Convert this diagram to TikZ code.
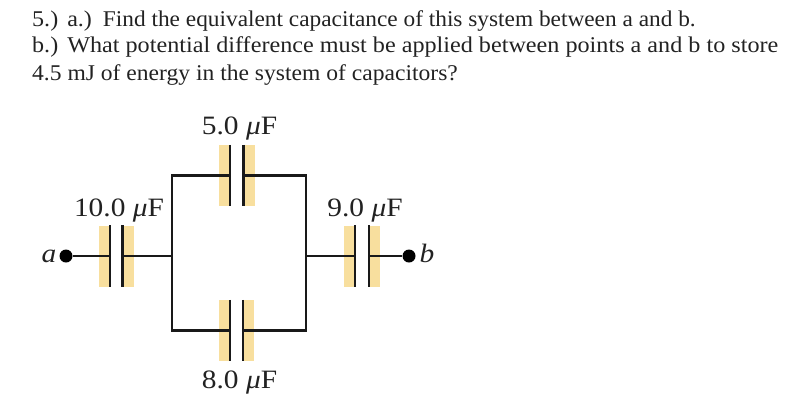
\documentclass[tikz,border=0pt]{standalone}
\usepackage{fontspec}
\setmainfont[FakeStretch=1.11]{Liberation Serif}
\newfontfamily\qfont[FakeStretch=1.07]{Liberation Serif}
\definecolor{capyellow}{HTML}{F8DF9E}
\definecolor{txt}{HTML}{222222}
\tikzset{
  question/.style={anchor=base west,inner sep=0pt,font=\qfont\fontsize{22.5}{24}\selectfont,text=txt},
  vallabel/.style={anchor=base,inner sep=0pt,font=\fontsize{26.5}{28}\selectfont,text=txt},
  termlabel/.style={anchor=base,inner sep=0pt,font=\itshape\fontsize{26.5}{28}\selectfont,text=txt},
  band/.style={fill=capyellow,draw=none,minimum width=11pt,minimum height=61pt,inner sep=0pt},
  wire/.style={draw=black!90,line width=2.1pt},
  plate/.style={draw=black!90,line width=2.4pt},
  terminal/.style={circle,fill=black,minimum size=13pt,inner sep=0pt}
}
\newcommand{\um}{{\itshape μ}F}
\begin{document}
\begin{tikzpicture}[x=1pt,y=-1pt]
\useasboundingbox (0,0) rectangle (787,400);
\node[question] (q1) at (32,26) {5.)\hspace{9pt}a.)\hspace{11pt}\scalebox{.969}[1]{Find the equivalent capacitance of this system between a and b.}};
\node[question] (q2) at (32,52.5) {b.)\hspace{9pt}\scalebox{1.004}[1]{What potential difference must be applied between points a and b to store}};
\node[question] (q3) at (32,80) {\scalebox{.979}[1]{4.5 mJ of energy in the system of capacitors?}};
% capacitor bands
\node[band] (c1l) at (104,256) {};
\node[band] (c1r) at (128,256) {};
\node[band] (c2l) at (224,175.5) {};
\node[band] (c2r) at (249,175.5) {};
\node[band] (c3l) at (224.5,330.5) {};
\node[band] (c3r) at (248.5,330.5) {};
\node[band] (c4l) at (349.5,256) {};
\node[band] (c4r) at (374.5,256) {};
% plates
\foreach \n in {c1l,c2l,c3l,c4l} \draw[plate] (\n.north east) -- (\n.south east);
\foreach \n in {c1r,c2r,c3r,c4r} \draw[plate] (\n.north west) -- (\n.south west);
% terminals
\node[terminal] (a) at (66,256) {};
\node[terminal] (b) at (409,256) {};
% junctions
\coordinate (jl) at (172,256);
\coordinate (jr) at (306,256);
\draw[wire] (a) -- (c1l.east);
\draw[wire] (c1r.west) -- (jl);
\draw[wire] (c2l.east) -| (jl);
\draw[wire] (c3l.east) -| (jl);
\draw[wire] (c2r.west) -| (jr);
\draw[wire] (c3r.west) -| (jr);
\draw[wire] (jr) -- (c4l.east);
\draw[wire] (c4r.west) -- (b);
% labels
\node[termlabel] (la) at (49,262.5) {a};
\node[termlabel] (lb) at (427,262.5) {b};
\node[vallabel] (v1) at (119,216.5) {10.0 \um};
\node[vallabel] (v2) at (239.5,134) {5.0 \um};
\node[vallabel] (v3) at (365,216.5) {9.0 \um};
\node[vallabel] (v4) at (239.5,388) {8.0 \um};
\end{tikzpicture}
\end{document}
